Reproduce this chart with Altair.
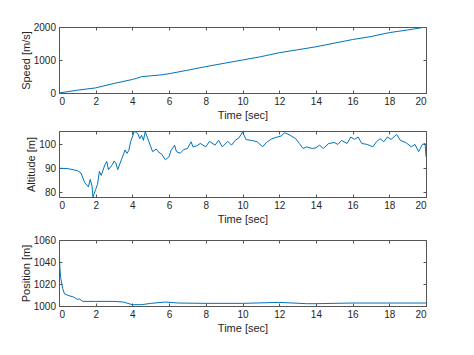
import altair as alt
import pandas as pd

# ---- data ----
x_ticks = [0, 2, 4, 6, 8, 10, 12, 14, 16, 18, 20]

speed_t = [0, 1, 2, 3, 4, 4.2, 4.5, 5, 5.5, 6, 7, 8, 9, 10, 11, 12, 13, 14, 15, 16, 17, 18, 19, 20]
speed_v = [0, 85, 155, 290, 410, 440, 495, 520, 545, 585, 690, 800, 900, 1000, 1100, 1220, 1310, 1400, 1510, 1620, 1710, 1830, 1910, 2000]

alt_t = [0, 0.5, 1.0, 1.2, 1.4, 1.6, 1.7, 1.8, 1.85, 2.0, 2.1, 2.2, 2.3, 2.5, 2.6, 2.7, 2.9, 3.0,
         3.1, 3.2, 3.4, 3.5, 3.6, 3.7, 3.8, 3.9, 4.0, 4.1, 4.3, 4.4, 4.5, 4.6, 4.7, 4.9, 5.1, 5.3,
         5.4, 5.6, 5.8, 6.0, 6.1, 6.3, 6.4, 6.6, 6.8, 7.0, 7.2, 7.3, 7.5, 7.7, 8.0, 8.2, 8.5, 8.7,
         8.9, 9.2, 9.4, 9.6, 9.8, 10.0, 10.2, 10.5, 10.8, 11.1, 11.3, 11.6, 11.9, 12.1, 12.3, 12.6,
         12.9, 13.1, 13.3, 13.5, 13.8, 14.0, 14.2, 14.4, 14.7, 15.0, 15.2, 15.4, 15.7, 15.9, 16.1,
         16.3, 16.5, 16.8, 17.1, 17.3, 17.5, 17.7, 17.9, 18.1, 18.4, 18.6, 18.9, 19.2, 19.4, 19.6,
         19.8, 19.95, 20.0]
alt_v = [90.0, 89.8, 89.0, 88.0, 84.0, 82.2, 85.3, 82.6, 78.0, 81.2, 83.3, 88.7, 87.0, 91.4, 92.8,
         89.4, 91.4, 93.0, 92.1, 89.4, 93.5, 95.5, 97.6, 96.2, 97.3, 101.0, 103.0, 105.4, 104.4,
         102.3, 103.7, 101.6, 105.3, 101.0, 96.9, 98.0, 96.9, 95.8, 93.5, 94.8, 97.3, 99.6, 96.9,
         96.2, 97.8, 98.2, 101.0, 98.9, 99.3, 100.3, 98.9, 101.2, 99.6, 101.6, 98.9, 101.2, 99.6,
         101.6, 102.6, 105.0, 101.9, 101.6, 101.0, 98.9, 100.7, 102.3, 103.0, 103.4, 104.8, 103.7,
         102.3, 100.3, 98.2, 98.9, 98.2, 98.5, 99.6, 98.2, 100.3, 100.7, 99.9, 101.6, 100.3, 103.0,
         102.0, 103.0, 100.3, 99.9, 98.9, 101.0, 102.3, 101.0, 103.0, 102.0, 104.1, 101.6, 100.7,
         98.9, 99.9, 96.9, 99.9, 100.3, 94.8]

pos_t = [0, 0.05, 0.1, 0.2, 0.3, 0.5, 0.8, 1.0, 1.1, 1.3, 2, 3, 3.5, 4, 4.5, 5, 5.8, 6.5, 8, 10, 12, 13.5, 14, 16, 18, 20]
pos_v = [1058, 1034, 1025, 1016, 1011, 1009.6, 1008.1, 1006, 1006.5, 1004.2, 1004.2, 1004.2, 1003.6,
         1001.2, 1001.2, 1002.4, 1003.6, 1002.7, 1002.4, 1002.4, 1003.3, 1002.1, 1002.1, 1002.7,
         1002.7, 1002.7]

LINE = "#0072BD"
AX = "#555555"
TXT = "#262626"
W, H = 367, 66


def panel(t, v, ytitle, ydomain, yticks):
    df = pd.DataFrame({"t": t, "v": v})
    xs = alt.Scale(domain=[0, 20], nice=False)
    ys = alt.Scale(domain=ydomain, nice=False, zero=False)
    common = dict(offset=-3, tickSize=3, domain=False, grid=False, tickColor=AX, format="d")
    line = alt.Chart(df).mark_line(color=LINE, strokeWidth=1, clip=True).encode(
        x=alt.X("t:Q", scale=xs, axis=alt.Axis(values=x_ticks, orient="bottom", title="Time [sec]",
                                               labelPadding=3, titlePadding=3, **common)),
        y=alt.Y("v:Q", scale=ys, axis=alt.Axis(values=yticks, orient="left", title=ytitle,
                                               labelPadding=3.5, titlePadding=2, **common)),
    )
    ghost = alt.Chart(df).mark_line(opacity=0).encode(
        x=alt.X("t:Q", scale=xs, axis=alt.Axis(values=x_ticks, orient="top", title=None,
                                               labels=False, **common)),
        y=alt.Y("v:Q", scale=ys, axis=alt.Axis(values=yticks, orient="right", title=None,
                                               labels=False, **common)),
    )
    return alt.layer(line, ghost).resolve_axis(x="independent", y="independent").properties(
        width=W, height=H)


p1 = panel(speed_t, speed_v, "Speed [m/s]", [0, 2000], [0, 1000, 2000])
p2 = panel(alt_t, alt_v, "Altitude [m]", [78, 105.5], [80, 90, 100])
p3 = panel(pos_t, pos_v, "Position [m]", [1000, 1060], [1000, 1020, 1040, 1060])

chart = alt.vconcat(p1, p2, p3, spacing=9).properties(
    padding={"left": 11, "top": 13, "right": 5, "bottom": 5},
    background="white",
).configure_view(stroke=AX, strokeWidth=1).configure_axis(
    labelFont="Liberation Sans", titleFont="Liberation Sans", labelFontSize=10, titleFontSize=11,
    labelColor=TXT, titleColor=TXT, titleFontWeight="normal"
)

chart.save("out.html", embed_options={"renderer": "svg", "actions": False})
